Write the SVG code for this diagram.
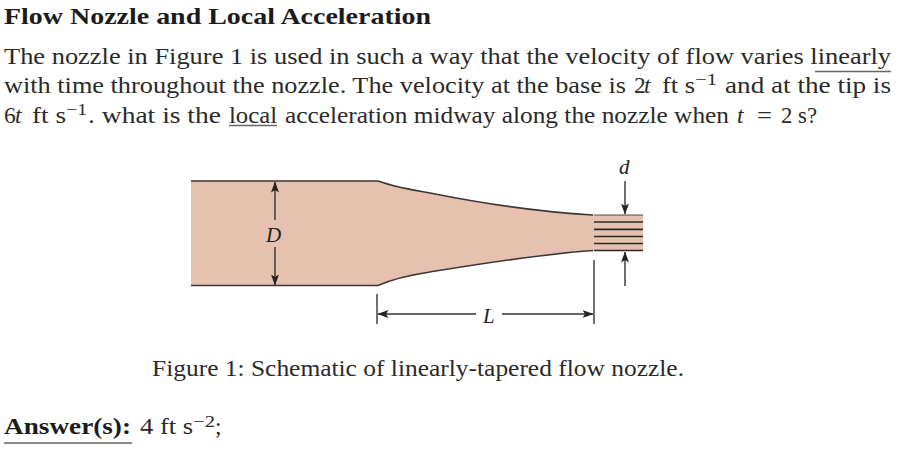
<svg xmlns="http://www.w3.org/2000/svg" width="900" height="459" viewBox="0 0 900 459">
<style>
text{font-family:"Liberation Serif","DejaVu Serif",serif;font-size:23.5px;fill:#2a2a2a}
.b{font-weight:bold;fill:#1c1c1c}
.i{font-style:italic}
.s{font-size:17px}
.l{font-size:21px;font-style:italic;fill:#222}
.w{stroke:#3c3634;stroke-width:1.6;fill:none}
.d{stroke:#333;stroke-width:1.4;fill:none}
.u{stroke:#666;stroke-width:1.5}
.h{stroke:#2e2a2a;stroke-width:1.7}
</style>
<defs>
<marker id="a" markerWidth="11" markerHeight="8" refX="10.500" refY="4" orient="auto" markerUnits="userSpaceOnUse"><path d="M0 0L11 4L0 8L2.500 4Z" fill="#222"/></marker>
</defs>
<rect width="900" height="459" fill="#fff"/>
<g id="question">
<text class="b" x="4" y="24" textLength="427" lengthAdjust="spacingAndGlyphs">Flow Nozzle and Local Acceleration</text>
<text x="4" y="63.500" textLength="887" lengthAdjust="spacingAndGlyphs">The nozzle in Figure 1 is used in such a way that the velocity of flow varies linearly</text>
<line class="u" x1="815" y1="71.500" x2="891" y2="71.500"/>
<text x="4" y="92.500" textLength="622" lengthAdjust="spacingAndGlyphs">with time throughout the nozzle. The velocity at the base is</text>
<text x="634" y="92.500">2</text><text class="i" x="644" y="92.500">t</text>
<text x="662" y="92.500" textLength="33" lengthAdjust="spacingAndGlyphs">ft s</text>
<text class="s" x="695" y="85" textLength="22" lengthAdjust="spacingAndGlyphs">−1</text>
<text x="725" y="92.500" textLength="166" lengthAdjust="spacingAndGlyphs">and at the tip is</text>
<text x="4" y="122.500">6</text><text class="i" x="15" y="122.500">t</text>
<text x="32" y="122.500" textLength="34" lengthAdjust="spacingAndGlyphs">ft s</text>
<text class="s" x="66" y="115" textLength="21" lengthAdjust="spacingAndGlyphs">−1</text>
<text x="88" y="122.500" textLength="133" lengthAdjust="spacingAndGlyphs">. what is the</text>
<text x="229" y="122.500" textLength="48" lengthAdjust="spacingAndGlyphs">local</text>
<line class="u" x1="229" y1="125.500" x2="277" y2="125.500"/>
<text x="285" y="122.500" textLength="444" lengthAdjust="spacingAndGlyphs">acceleration midway along the nozzle when</text>
<text class="i" x="737" y="122.500">t</text>
<text x="757" y="122.500" textLength="15" lengthAdjust="spacingAndGlyphs">=</text>
<text x="781" y="122.500" textLength="36" lengthAdjust="spacingAndGlyphs">2 s?</text>
</g>
<g id="nozzle">
<path d="M191 181H378C395 187 412 190 430 193C480 203 540 212 593 215H643V250.500H593C540 254 480 264 430 272C410 275 395 278 378 285.500H191Z" fill="#e6c1b0"/>
<path class="w" d="M191 181H378C395 187 412 190 430 193C480 203 540 212 593 215"/>
<path class="w" d="M191 285.500H378C395 278 410 275 430 272C480 264 540 254 593 250.500"/>
<g id="tip-lines">
<line class="h" x1="594" y1="215" x2="643" y2="215" stroke-opacity=".55"/>
<line class="h" x1="594" y1="222" x2="643" y2="222"/>
<line class="h" x1="594" y1="229.300" x2="643" y2="229.300"/>
<line class="h" x1="594" y1="236.500" x2="643" y2="236.500"/>
<line class="h" x1="594" y1="243.500" x2="643" y2="243.500"/>
<line class="h" x1="594" y1="250.500" x2="643" y2="250.500"/>
</g>
</g>
<g id="connectors">
<line class="d" x1="275" y1="220" x2="275" y2="182" marker-end="url(#a)"/>
<line class="d" x1="275" y1="247" x2="275" y2="285" marker-end="url(#a)"/>
<line class="d" x1="625" y1="181" x2="625" y2="214" marker-end="url(#a)"/>
<line class="d" x1="625" y1="286" x2="625" y2="252" marker-end="url(#a)"/>
<line class="d" x1="377" y1="294" x2="377" y2="324"/>
<line class="d" x1="594" y1="260" x2="594" y2="324"/>
<line class="d" x1="476" y1="314" x2="378" y2="314" marker-end="url(#a)"/>
<line class="d" x1="502" y1="314" x2="593" y2="314" marker-end="url(#a)"/>
</g>
<g id="label-D"><text class="l" x="266" y="242">D</text></g>
<g id="label-d"><text class="l" x="619" y="174">d</text></g>
<g id="label-L"><text class="l" x="483" y="322.500">L</text></g>
<g id="caption">
<text x="152" y="376" textLength="532" lengthAdjust="spacingAndGlyphs">Figure 1: Schematic of linearly-tapered flow nozzle.</text>
</g>
<g id="answer">
<text class="b" x="4" y="434" textLength="127" lengthAdjust="spacingAndGlyphs">Answer(s):</text>
<line class="u" x1="4" y1="443" x2="132" y2="443"/>
<text x="140" y="434" textLength="53" lengthAdjust="spacingAndGlyphs">4 ft s</text>
<text class="s" x="193" y="426.500" textLength="22" lengthAdjust="spacingAndGlyphs">−2</text>
<text x="215" y="434">;</text>
</g>
</svg>
